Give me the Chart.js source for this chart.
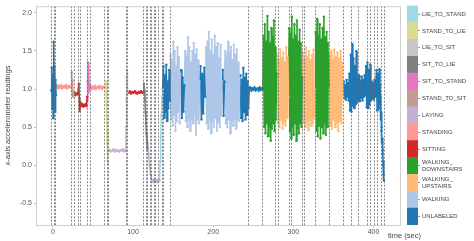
<!DOCTYPE html>
<html>
<head>
<meta charset="utf-8">
<script src="https://cdn.jsdelivr.net/npm/chart.js@4.4.1/dist/chart.umd.min.js"></script>
<style>
  html, body { margin: 0; padding: 0; background: #fff; }
  #wrap { position: relative; width: 474px; height: 241px; }
  #main { position: absolute; left: 0; top: 0; }
  #bar { position: absolute; left: 407px; top: 0; }
</style>
</head>
<body>
<div id="wrap">
  <canvas id="main" width="474" height="241"></canvas>
  <canvas id="bar" width="67" height="241"></canvas>
</div>
<script>
const activities = ['UNLABELED', 'WALKING', 'WALKING_UPSTAIRS', 'WALKING_DOWNSTAIRS', 'SITTING',
  'STANDING', 'LAYING', 'STAND_TO_SIT', 'SIT_TO_STAND', 'SIT_TO_LIE', 'LIE_TO_SIT',
  'STAND_TO_LIE', 'LIE_TO_STAND'];
const activityColors = ['#1f77b4', '#aec7e8', '#ffbb78', '#2ca02c', '#d62728', '#ff9896',
  '#c5b0d5', '#c49c94', '#e377c2', '#7f7f7f', '#c7c7c7', '#dbdb8d', '#9edae5'];

const xTicks = [0, 100, 200, 300, 400];
const yTicks = [-0.5, 0.0, 0.5, 1.0, 1.5, 2.0];

// activity start/end markers (sec)
const boundaries = [-2, 1, 3, 23, 26, 32, 34, 43, 46, 64, 67, 69, 91, 93, 113, 116, 118, 121,
  123, 126, 128, 131, 136, 138, 146, 244, 261, 277, 281, 294, 297, 311, 313, 327, 344, 362,
  372, 381, 392, 396, 401, 404, 409, 413];

// segments: activity index, start time, end time, readings
const segLabel = [0, 5, 7, 4, 8, 5, 11, 6, 10, 4, 9, 6, 12, 0, 1, 0, 1, 0, 1, 0, 1, 0, 0,
  3, 2, 3, 2, 3, 2, 0, 0];
const segStart = [-2, 4, 23, 26, 43, 46, 66, 69, 91, 93, 113, 118, 133, 137, 146, 159, 164, 183,
  190, 211, 214, 233, 245, 262, 279, 294, 311, 327, 344, 362, 408];
const segEnd = [4, 23, 26, 43, 46, 64, 69, 91, 93, 113, 118, 133, 137, 146, 159, 164, 183, 190,
  211, 214, 233, 245, 262, 279, 294, 311, 327, 344, 362, 408, 413];
const segReadings = [
  [0.98, 1.28, 0.74, 1.18, 0.62, 1.62, 0.8, 1.3, 0.7, 1.12, 0.92],
  [1.03, 1.05, 1.01, 1.04, 1.02, 1.05, 1.01, 1.03, 1.04, 1.02, 1.05, 1.01, 1.03, 1.04, 1.02, 1.03],
  [1.03, 1.22, 0.98, 1.12, 0.9, 0.95, 0.93],
  [0.93, 0.95, 0.92, 0.94, 0.93, 0.95, 1.07, 0.71, 0.82, 0.78, 0.8, 0.77, 0.79, 0.78, 0.8, 0.78, 0.9],
  [0.85, 1.1, 1.35, 0.95, 1.25, 1.0, 1.02],
  [1.02, 1.04, 1.0, 1.03, 1.01, 1.04, 1.0, 1.02, 1.03, 1.01, 1.04, 1.02, 1.0, 1.03, 1.02],
  [1.02, 1.1, 0.95, 0.8, 0.62, 0.45, 0.3, 0.15, 0.05, 0.02],
  [0.19, 0.2, 0.18, 0.19, 0.21, 0.18, 0.2, 0.19, 0.18, 0.2, 0.19, 0.21, 0.18, 0.19],
  [0.19, 0.5, 0.85, 1.15, 1.25, 0.96],
  [0.96, 0.95, 0.97, 0.94, 0.96, 0.95, 0.97, 0.95, 0.94, 0.96, 0.95, 0.97, 0.95, 0.96],
  [0.96, 1.07, 0.98, 0.85, 0.7, 0.55, 0.42, 0.3, 0.22],
  [0.3, 0.15, 0.0, -0.12, -0.2, -0.22, -0.19, -0.21, -0.2, -0.22, -0.19, -0.2],
  [-0.2, 0.05, 0.35, 0.65, 0.9, 1.0],
  [1.0, 1.3, 0.62, 1.18, 0.7, 1.32, 0.58, 1.1, 0.75, 1.25, 0.85],
  [0.9, 1.45, 0.6, 1.38, 0.52, 1.62, 0.66, 1.5, 0.45, 1.3, 0.58, 1.55, 0.7, 1.42, 0.55, 1.2],
  [1.0, 1.25, 0.62, 1.15, 0.7, 1.05],
  [1.0, 1.5, 0.58, 1.42, 0.5, 1.68, 0.62, 1.55, 0.45, 1.35, 0.6, 1.5, 0.55, 1.6, 0.68, 1.45, 0.4, 1.52, 0.6, 1.38, 0.55, 1.1],
  [1.05, 1.3, 0.6, 1.2, 0.68, 1.28, 0.9],
  [0.95, 1.55, 0.55, 1.62, 0.48, 1.75, 0.6, 1.5, 0.42, 1.65, 0.58, 1.45, 0.5, 1.7, 0.62, 1.55, 0.45, 1.6, 0.56, 1.4, 0.5, 1.58, 0.65, 1.1],
  [1.0, 1.25, 0.65, 1.1],
  [1.0, 1.5, 0.55, 1.42, 0.5, 1.62, 0.6, 1.48, 0.42, 1.55, 0.58, 1.38, 0.52, 1.58, 0.62, 1.45, 0.48, 1.52, 0.6, 1.35, 0.58, 1.15],
  [1.0, 1.18, 0.62, 1.12, 0.58, 1.28, 0.7, 1.15, 0.6, 1.2, 0.66, 1.1, 0.75, 1.02],
  [1.0, 1.02, 0.98, 1.01, 0.99, 1.02, 0.98, 1.0, 1.01, 0.98, 1.02, 0.99, 1.01, 1.0],
  [1.0, 1.7, 0.5, 1.85, 0.42, 1.62, 0.55, 1.96, 0.38, 1.75, 0.5, 1.6, 0.32, 1.8, 0.48, 1.68, 0.55, 1.9, 0.45, 1.55, 0.6, 1.2],
  [1.0, 1.45, 0.55, 1.38, 0.5, 1.52, 0.6, 1.4, 0.48, 1.48, 0.56, 1.35, 0.52, 1.55, 0.62, 1.42, 0.9],
  [1.1, 1.8, 0.45, 1.72, 0.35, 1.95, 0.5, 1.65, 0.4, 1.85, 0.55, 1.7, 0.32, 1.9, 0.48, 1.62, 0.42, 1.78, 0.55, 1.6, 0.5, 1.15],
  [0.95, 1.48, 0.55, 1.4, 0.5, 1.55, 0.58, 1.42, 0.46, 1.5, 0.6, 1.38, 0.52, 1.45, 0.56, 1.52, 0.62, 1.0],
  [1.0, 1.75, 0.45, 1.92, 0.38, 1.7, 0.52, 1.85, 0.35, 1.65, 0.5, 1.8, 0.42, 1.95, 0.55, 1.68, 0.4, 1.75, 0.5, 1.6, 1.05],
  [0.95, 1.45, 0.52, 1.5, 0.48, 1.38, 0.6, 1.52, 0.5, 1.42, 0.56, 1.48, 0.45, 1.4, 0.58, 1.5, 0.55, 1.35, 0.9],
  [1.0, 1.1, 0.88, 1.05, 0.86, 1.12, 0.9, 1.08, 0.85,
   1.2, 0.72, 1.45, 0.7, 1.59, 0.78, 1.4, 0.75, 1.3, 0.8, 1.5, 0.82,
   1.15, 0.86, 1.18, 0.84, 1.1, 0.88, 1.16, 0.85, 1.12, 0.9, 1.18, 0.92,
   1.3, 0.76, 1.35, 0.75, 1.25, 0.8, 1.32, 0.85,
   1.1, 0.88, 1.08, 0.86, 1.12, 0.9, 1.05,
   1.25, 0.72, 1.2, 0.75, 1.26, 0.8],
  [1.05, 0.75, 0.9, 0.6, 0.7, 0.45, 0.5, 0.3, 0.35, 0.15, 0.2, 0.0, 0.05, -0.12, -0.2]
];

Chart.defaults.font.family = "'Liberation Sans', Arial, sans-serif";
Chart.defaults.color = '#555';

const datasets = segReadings.map((vals, s) => {
  const t0 = segStart[s];
  const dt = (segEnd[s] - t0) / (vals.length - 1);
  const c = activityColors[segLabel[s]];
  return {
    label: activities[segLabel[s]],
    data: vals.map((v, i) => ({ x: t0 + i * dt, y: v })),
    showLine: true,
    borderColor: c,
    backgroundColor: c,
    borderWidth: 1.6,
    pointRadius: 1.2,
    pointBorderWidth: 0
  };
});

const frameAndMarkers = {
  id: 'frameAndMarkers',
  afterDatasetsDraw(chart) {
    const { ctx, chartArea: a, scales: { x } } = chart;
    ctx.save();
    ctx.strokeStyle = '#6a6a6a';
    ctx.lineWidth = 0.8;
    ctx.setLineDash([2, 1.5]);
    boundaries.forEach(b => {
      const px = Math.round(x.getPixelForValue(b)) + 0.5;
      ctx.beginPath();
      ctx.moveTo(px, a.top);
      ctx.lineTo(px, a.bottom);
      ctx.stroke();
    });
    ctx.setLineDash([]);
    ctx.strokeStyle = '#cfcfcf';
    ctx.lineWidth = 1;
    ctx.strokeRect(a.left + 0.5, a.top + 0.5, a.right - a.left, a.bottom - a.top);
    ctx.restore();
  },
  afterDraw(chart) {
    const { ctx, scales: { x } } = chart;
    ctx.save();
    ctx.fillStyle = '#444';
    ctx.font = "7.5px 'Liberation Sans', Arial, sans-serif";
    ctx.textBaseline = 'middle';
    ctx.fillText('time (sec)', x.right - 12, 236);
    ctx.restore();
  }
};

new Chart(document.getElementById('main'), {
  type: 'scatter',
  data: { datasets },
  plugins: [frameAndMarkers],
  options: {
    responsive: false,
    animation: false,
    devicePixelRatio: 1,
    layout: { padding: { left: 0, top: 4, right: 74, bottom: 0 } },
    plugins: { legend: { display: false }, tooltip: { enabled: false } },
    scales: {
      x: {
        type: 'linear', min: -21, max: 433,
        afterBuildTicks: s => { s.ticks = xTicks.map(v => ({ value: v })); },
        afterFit: s => { s.height = 16; },
        grid: { display: true, drawOnChartArea: false, tickLength: 2, color: '#bbb' },
        border: { display: false },
        ticks: { font: { size: 7 }, padding: 1, maxRotation: 0, callback: v => String(v) }
      },
      y: {
        type: 'linear', min: -0.785, max: 2.087,
        afterBuildTicks: s => { s.ticks = yTicks.map(v => ({ value: v })); },
        afterFit: s => { s.width = 36; },
        grid: { display: true, drawOnChartArea: false, tickLength: 2, color: '#bbb' },
        border: { display: false },
        ticks: { font: { size: 7 }, padding: 2, callback: v => v.toFixed(1) },
        title: {
          display: true, text: 'x-axis accelerometer readings', color: '#444',
          font: { size: 7.5 }, padding: { top: 3, bottom: 0 }
        }
      }
    }
  }
});

// colour bar of activity labels
new Chart(document.getElementById('bar'), {
  type: 'bar',
  data: {
    labels: [''],
    datasets: activities.map((name, i) => ({
      label: name, data: [1], backgroundColor: activityColors[i], borderWidth: 0,
      barPercentage: 1, categoryPercentage: 1
    }))
  },
  options: {
    responsive: false,
    animation: false,
    devicePixelRatio: 1,
    layout: { padding: { left: 0, top: 4, right: 0, bottom: 16 } },
    plugins: { legend: { display: false }, tooltip: { enabled: false } },
    scales: {
      x: { stacked: true, display: false },
      y: {
        stacked: true, position: 'right', min: 0, max: activities.length,
        afterBuildTicks: s => { s.ticks = activities.map((n, i) => ({ value: i + 0.5 })); },
        afterFit: s => { s.width = 56; },
        grid: { drawOnChartArea: false, tickLength: 2, color: '#999' },
        border: { display: false },
        ticks: {
          font: { size: 6 }, color: '#444', padding: 2, autoSkip: false,
          callback: (v, i) => {
            const n = activities[i];
            return n.startsWith('WALKING_') ? ['WALKING_', n.slice(8)] : n;
          }
        }
      }
    }
  }
});
</script>
</body>
</html>
